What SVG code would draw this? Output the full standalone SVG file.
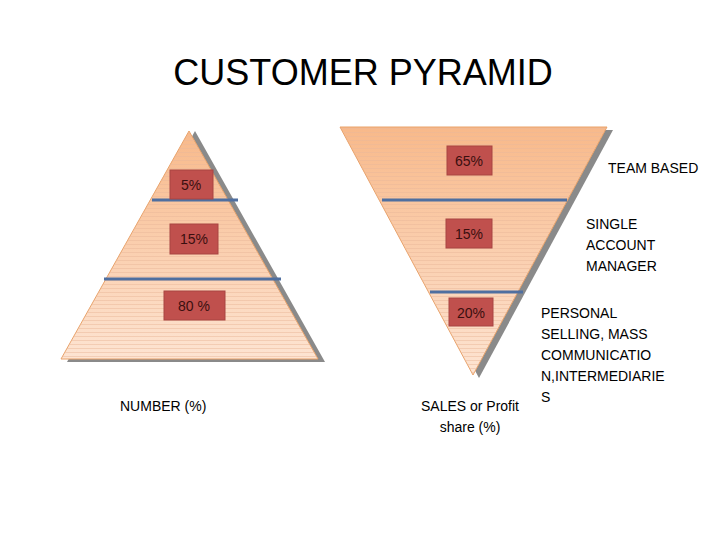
<svg xmlns="http://www.w3.org/2000/svg" width="728" height="546" viewBox="0 0 728 546">
<defs>
<linearGradient id="g1" x1="0" y1="0" x2="0" y2="1"><stop offset="0" stop-color="#f8b98a"/><stop offset="1" stop-color="#fde4d2"/></linearGradient>
<pattern id="ln" width="10" height="4" patternUnits="userSpaceOnUse"><rect width="10" height="1" fill="#e9b89a" opacity="0.5"/></pattern>
<style>
text{font-family:"Liberation Sans",Calibri,Arial,sans-serif;fill:#000}
.box{fill:#c0504d;stroke:#a84542}
.bt{font-size:14px;fill:#3a0f0f;text-anchor:middle}
.sep{stroke:#4f6fa0;stroke-width:3}
.lbl{font-size:14px}
</style>
</defs>
<rect width="728" height="546" fill="#fff"/>
<text x="363" y="85" font-size="36" text-anchor="middle">CUSTOMER PYRAMID</text>
<g id="left-pyramid">
<polygon points="195,131 325,362 67,362" fill="#8a8a8a"/>
<polygon points="189,131 318,359 61,359" fill="url(#g1)" stroke="#e8a26a"/>
<polygon points="189,131 318,359 61,359" fill="url(#ln)"/>
<line class="sep" x1="152" y1="200" x2="238" y2="200"/>
<line class="sep" x1="104" y1="279" x2="281" y2="279"/>
<rect class="box" x="170" y="170" width="43" height="29"/><text class="bt" x="191" y="190">5%</text>
<rect class="box" x="170" y="224" width="48" height="30"/><text class="bt" x="194" y="244">15%</text>
<rect class="box" x="164" y="291" width="61" height="29"/><text class="bt" x="194" y="311">80 %</text>
</g>
<g id="right-pyramid">
<polygon points="346,130 613,130 479,378" fill="#8a8a8a"/>
<polygon points="340,127 607,127 473,375" fill="url(#g1)" stroke="#e8a26a"/>
<polygon points="340,127 607,127 473,375" fill="url(#ln)"/>
<line class="sep" x1="382" y1="200" x2="567" y2="200"/>
<line class="sep" x1="430" y1="292" x2="523" y2="292"/>
<rect class="box" x="447" y="146" width="45" height="29"/><text class="bt" x="469" y="166">65%</text>
<rect class="box" x="446" y="219" width="46" height="29"/><text class="bt" x="469" y="239">15%</text>
<rect class="box" x="449" y="298" width="44" height="28"/><text class="bt" x="471" y="318">20%</text>
</g>
<g id="labels" class="lbl">
<text class="lbl" x="608" y="173">TEAM BASED</text>
<text class="lbl" x="586" y="229"> SINGLE</text>
<text class="lbl" x="586" y="250">ACCOUNT</text>
<text class="lbl" x="586" y="271">MANAGER</text>
<text class="lbl" x="541" y="318"> PERSONAL</text>
<text class="lbl" x="541" y="339">SELLING, MASS</text>
<text class="lbl" x="541" y="360">COMMUNICATIO</text>
<text class="lbl" x="541" y="381">N,INTERMEDIARIE</text>
<text class="lbl" x="541" y="402">S</text>
<text class="lbl" x="120" y="411">NUMBER (%)</text>
<text class="lbl" x="470" y="411" text-anchor="middle">SALES or Profit</text>
<text class="lbl" x="470" y="432" text-anchor="middle">share (%)</text>
</g>
</svg>
